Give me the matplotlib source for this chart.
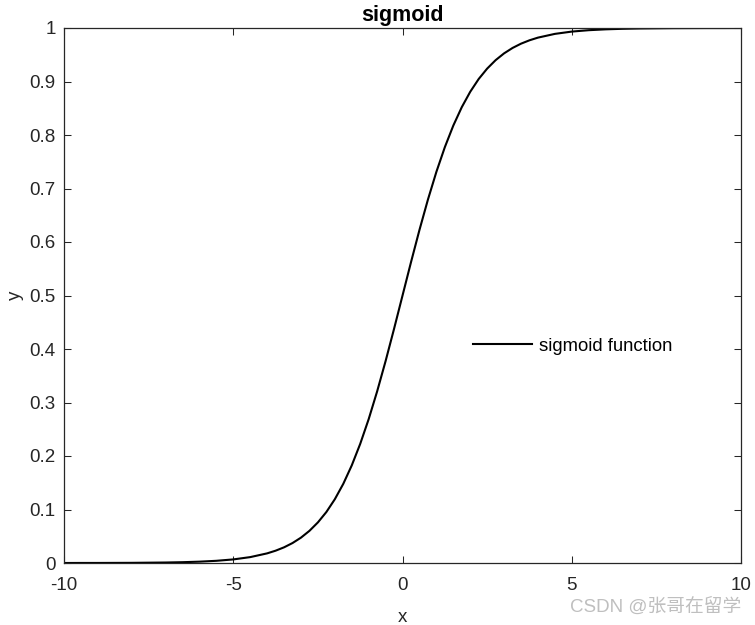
import matplotlib.pyplot as plt

# Valores
x = [-10, -9.5, -9, -8.5, -8, -7.5, -7, -6.5, -6, -5.5, -5, -4.5, -4,
     -3.75, -3.5, -3.25, -3, -2.75, -2.5, -2.25, -2, -1.75, -1.5, -1.25,
     -1, -0.75, -0.5, -0.25, 0, 0.25, 0.5, 0.75, 1, 1.25, 1.5, 1.75,
     2, 2.25, 2.5, 2.75, 3, 3.25, 3.5, 3.75, 4, 4.5, 5,
     5.5, 6, 6.5, 7, 7.5, 8, 8.5, 9, 9.5, 10]
y = [0.0000, 0.0001, 0.0001, 0.0002, 0.0003, 0.0006, 0.0009, 0.0015, 0.0025,
     0.0041, 0.0067, 0.0110, 0.0180,
     0.0230, 0.0293, 0.0373, 0.0474, 0.0601, 0.0759, 0.0953, 0.1192, 0.1480,
     0.1824, 0.2227, 0.2689, 0.3208, 0.3775, 0.4378, 0.5000, 0.5622, 0.6225,
     0.6792, 0.7311, 0.7773, 0.8176, 0.8520, 0.8808, 0.9047, 0.9241, 0.9399,
     0.9526, 0.9627, 0.9707, 0.9770, 0.9820, 0.9890, 0.9933,
     0.9959, 0.9975, 0.9985, 0.9991, 0.9994, 0.9997, 0.9998, 0.9999, 0.9999,
     1.0000]
xticks = [-10, -5, 0, 5, 10]
yticks = [0, 0.1, 0.2, 0.3, 0.4, 0.5, 0.6, 0.7, 0.8, 0.9, 1]
ylabels = ["0", "0.1", "0.2", "0.3", "0.4", "0.5", "0.6", "0.7", "0.8", "0.9", "1"]

plt.rcParams['font.family'] = ['Liberation Sans', 'Noto Sans CJK SC', 'DejaVu Sans']
plt.rcParams['axes.unicode_minus'] = False
gris = (0.15, 0.15, 0.15)

fig = plt.figure(figsize=(7.55, 6.25), dpi=100)
ax = fig.add_axes([0.0848, 0.0992, 0.8967, 0.856])

ax.plot(x, y, color="k", linewidth=1.5, label="sigmoid function")

ax.set_xlim(-10, 10)
ax.set_ylim(0, 1)
ax.set_xticks(xticks)
ax.set_yticks(yticks)
ax.set_yticklabels(ylabels)
ax.tick_params(direction="in", length=5, width=0.75, colors=gris,
               labelsize=13.5, top=True, right=True)
ax.tick_params(axis="x", pad=10)
ax.tick_params(axis="y", pad=6)
for s in ax.spines.values():
    s.set_linewidth(0.9)
    s.set_color(gris)

ax.set_title("sigmoid", fontsize=15.5, fontweight="bold", pad=5)
ax.set_xlabel("x", fontsize=13.5, color=gris, labelpad=11)
ax.set_ylabel("y", fontsize=13.5, color=gris, labelpad=4)

ax.legend(loc="center left", bbox_to_anchor=(0.59, 0.405), frameon=False,
          fontsize=13.3, handlelength=3.2, handletextpad=0.4, borderpad=0)

# Marca de agua
fig.text(0.982, 0.03, "CSDN @张哥在留学", ha="right", va="center",
         fontsize=13.5, color=(0.75, 0.75, 0.75))

fig.savefig("out.png", dpi=100)
